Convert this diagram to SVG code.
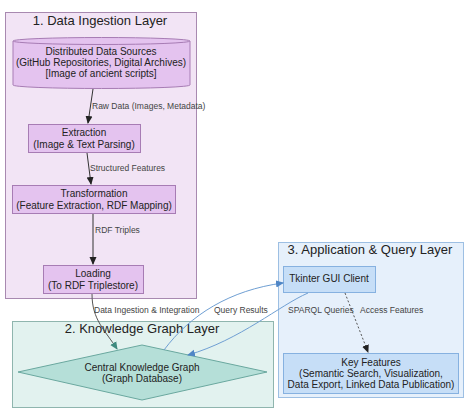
<svg xmlns="http://www.w3.org/2000/svg" width="474" height="413" viewBox="0 0 474 413">
<defs>
<style>
text{font-family:"Liberation Sans",Arial,sans-serif;fill:#222;text-anchor:middle}
.t{font-size:13px}
.n{font-size:10px}
.l{font-size:8.5px;fill:#444;text-anchor:start}
.p{fill:#e4c3ef;stroke:#a77cb4;stroke-width:1}
.b{fill:#c6def7;stroke:#86b1e0;stroke-width:1}
.e{fill:none;stroke:#333;stroke-width:1}
.eb{fill:none;stroke:#6f9fd3;stroke-width:1}
</style>
<marker id="a" markerWidth="8" markerHeight="8" refX="7" refY="4" orient="auto" markerUnits="userSpaceOnUse"><path d="M0,0.5 L8,4 L0,7.5 z" fill="#222"/></marker>
<marker id="ab" markerWidth="8" markerHeight="8" refX="7" refY="4" orient="auto" markerUnits="userSpaceOnUse"><path d="M0,0.5 L8,4 L0,7.5 z" fill="#4f86c6"/></marker>
<marker id="at" markerWidth="8" markerHeight="8" refX="7" refY="4" orient="auto" markerUnits="userSpaceOnUse"><path d="M0,0.5 L8,4 L0,7.5 z" fill="#3f8a7f"/></marker>
</defs>
<rect width="474" height="413" fill="#fff"/>
<g id="layer1">
<rect x="5.5" y="12.5" width="191" height="286" fill="#f2e4f5" stroke="#a889b0"/>
<text class="t" x="100" y="25">1. Data Ingestion Layer</text>
</g>
<g id="layer2">
<rect x="12.5" y="321.5" width="261" height="86" fill="#e2f2ef" stroke="#8fb5ae"/>
<text class="t" x="142" y="333">2. Knowledge Graph Layer</text>
</g>
<g id="layer3">
<rect x="278.5" y="242.5" width="185" height="155" fill="#e6f0fb" stroke="#9dbfe3"/>
<text class="t" x="370" y="254">3. Application &amp; Query Layer</text>
</g>
<g id="sources">
<path class="p" d="M13,41 L13,85 A88.5,3.5 0 0 0 190,85 L190,41"/>
<ellipse class="p" cx="101.5" cy="41" rx="88.5" ry="3.5"/>
<text class="n" x="101" y="55">Distributed Data Sources</text>
<text class="n" x="101" y="66">(GitHub Repositories, Digital Archives)</text>
<text class="n" x="101" y="77">[Image of ancient scripts]</text>
</g>
<g id="extraction">
<rect class="p" x="28.5" y="124.5" width="112" height="28"/>
<text class="n" x="84" y="136">Extraction</text>
<text class="n" x="84" y="148">(Image &amp; Text Parsing)</text>
</g>
<g id="transformation">
<rect class="p" x="12.5" y="185.5" width="163" height="28"/>
<text class="n" x="94" y="197">Transformation</text>
<text class="n" x="94" y="209">(Feature Extraction, RDF Mapping)</text>
</g>
<g id="loading">
<rect class="p" x="43.5" y="265.5" width="100" height="28"/>
<text class="n" x="93" y="277">Loading</text>
<text class="n" x="93" y="289">(To RDF Triplestore)</text>
</g>
<g id="kg">
<polygon points="142,345 267,372 142,400 18,372" fill="#b5dfd8" stroke="#6aa89f"/>
<text class="n" x="142" y="371">Central Knowledge Graph</text>
<text class="n" x="142" y="382">(Graph Database)</text>
</g>
<g id="gui">
<rect class="b" x="283.5" y="266.5" width="92" height="26"/>
<text class="n" x="329" y="282">Tkinter GUI Client</text>
</g>
<g id="features">
<rect class="b" x="283.5" y="353.5" width="175" height="40"/>
<text class="n" x="371" y="366">Key Features</text>
<text class="n" x="371" y="377">(Semantic Search, Visualization,</text>
<text class="n" x="371" y="388">Data Export, Linked Data Publication)</text>
</g>
<g id="connectors">
<path class="e" d="M93,89 L88,123" marker-end="url(#a)"/>
<text class="l" x="92" y="109">Raw Data (Images, Metadata)</text>
<path class="e" d="M87,153 L91,184" marker-end="url(#a)"/>
<text class="l" x="90" y="171">Structured Features</text>
<path class="e" d="M93,214 L93,264" marker-end="url(#a)"/>
<text class="l" x="95" y="233">RDF Triples</text>
<path d="M92,294 C92,320 105,330 117,349" fill="none" stroke="#555" stroke-width="1" marker-end="url(#at)"/>
<text class="l" x="94" y="313">Data Ingestion &amp; Integration</text>
<path class="eb" d="M164,350 C190,315 230,290 283,283" marker-end="url(#ab)"/>
<text class="l" x="214" y="313">Query Results</text>
<path class="eb" d="M308,293 C280,305 240,340 188,355" marker-end="url(#ab)"/>
<text class="l" x="288" y="313">SPARQL Queries</text>
<path d="M345,293 L368,352" fill="none" stroke="#555" stroke-width="1" stroke-dasharray="2,2" marker-end="url(#a)"/>
<text class="l" x="360" y="313">Access Features</text>
</g>
</svg>
